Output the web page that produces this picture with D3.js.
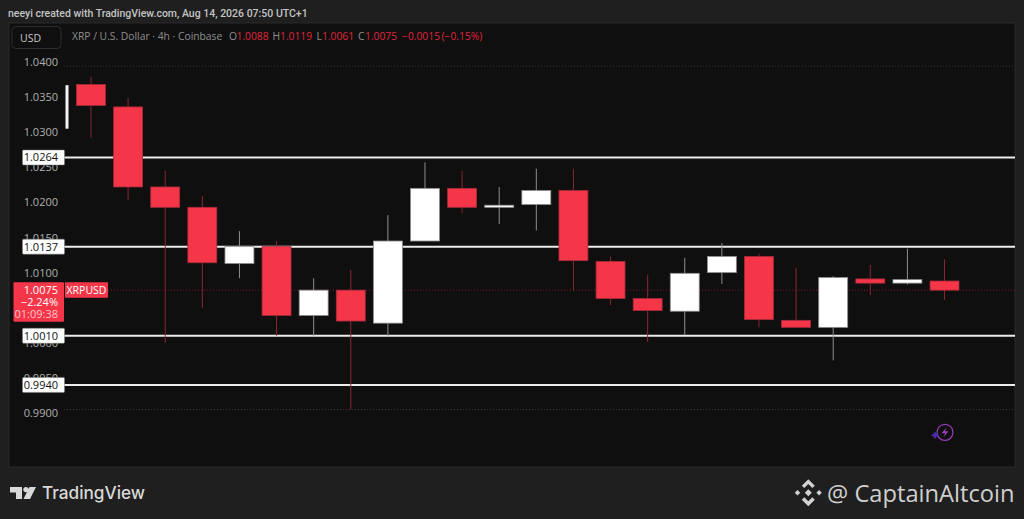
<!DOCTYPE html>
<html>
<head>
<meta charset="utf-8">
<script src="https://cdn.jsdelivr.net/npm/d3@7/dist/d3.min.js"></script>
<style>
  html, body { margin: 0; padding: 0; background: #1f1f1f; }
  svg { display: block; }
  text { font-family: "Open Sans", "Noto Sans", sans-serif; }
</style>
</head>
<body>
<svg id="grafico"></svg>
<script>
// 4h slots, day + hour
var slots = ['10 09:00', '10 13:00', '10 17:00', '10 21:00', '11 01:00', '11 05:00', '11 09:00', '11 13:00', '11 17:00',
             '11 21:00', '12 01:00', '12 05:00', '12 09:00', '12 13:00', '12 17:00', '12 21:00', '13 01:00', '13 05:00',
             '13 09:00', '13 13:00', '13 17:00', '13 21:00', '14 01:00', '14 05:00', '14 09:00', '14 13:00'];

// candles (the last slot is empty)
var opens  = [1.0368, 1.0336, 1.0222, 1.0193, 1.0113, 1.0137, 1.0039, 1.0075, 1.0028, 1.0145, 1.0220, 1.0193,
              1.0197, 1.0217, 1.0116, 1.0063, 1.0045, 1.0100, 1.0123, 1.0032, 1.0022, 1.0091, 1.0085, 1.0088];
var highs  = [1.0379, 1.0349, 1.0245, 1.0209, 1.0159, 1.0145, 1.0092, 1.0104, 1.0182, 1.0257, 1.0245, 1.0222,
              1.0248, 1.0248, 1.0123, 1.0097, 1.0121, 1.0142, 1.0127, 1.0107, 1.0095, 1.0111, 1.0134, 1.0119];
var lows   = [1.0292, 1.0203, 1.0000, 1.0050, 1.0092, 1.0010, 1.0010, 0.9905, 1.0010, 1.0145, 1.0185, 1.0169,
              1.0160, 1.0074, 1.0054, 1.0001, 1.0011, 1.0084, 1.0022, 1.0022, 0.9975, 1.0068, 1.0083, 1.0061];
var closes = [1.0338, 1.0222, 1.0193, 1.0114, 1.0137, 1.0039, 1.0075, 1.0031, 1.0145, 1.0220, 1.0193, 1.0196,
              1.0217, 1.0117, 1.0063, 1.0046, 1.0099, 1.0123, 1.0033, 1.0022, 1.0093, 1.0085, 1.0090, 1.0075];

// axes
var priceTicks = [1.04, 1.035, 1.03, 1.025, 1.02, 1.015, 1.01, 1.005, 1.0, 0.995, 0.99];
var timeTicks  = ['10 13:00', '11 01:00', '11 13:00', '12 01:00', '12 13:00', '13 01:00', '13 13:00', '14 01:00', '14 13:00'];
var timeLabels = ['13:00', '11', '13:00', '12', '13:00', '13', '13:00', '14', '13'];

// horizontal levels
var levels = [1.0264, 1.0137, 1.0010, 0.9940];
var gridLevels = [1.0394, 0.9905];
var lastPrice = 1.0075;
var leftBar = [1.0367, 1.0305];

var largura = 1024, altura = 519;
var plot = { esquerda: 9, direita: 1015, superior: 23, inferior: 467 };

var svg = d3.select('#grafico').attr('width', largura).attr('height', altura);

svg.append('rect').attr('width', largura).attr('height', altura).attr('fill', '#1f1f1f');
svg.append('rect')
    .attr('x', plot.esquerda).attr('y', plot.superior)
    .attr('width', plot.direita - plot.esquerda).attr('height', plot.inferior - plot.superior)
    .attr('fill', '#0f0f0f')
    .attr('stroke', '#2a2a2a');

svg.append('clipPath').attr('id', 'recorte').append('rect')
    .attr('x', plot.esquerda).attr('y', plot.superior)
    .attr('width', plot.direita - plot.esquerda).attr('height', plot.inferior - plot.superior);

//Scales
var y = d3.scaleLinear().domain([0.99, 1.04]).range([413, 62]);
var x = d3.scaleBand().domain(slots).range([72.45, 1037.3]).paddingInner(0.22).paddingOuter(0.11);
var meio = function(s) { return x(s) + x.bandwidth() / 2; };

//Axes
var eixoY = d3.axisLeft(y).tickValues(priceTicks).tickSize(0).tickPadding(0).tickFormat(d3.format('.4f'));
var gEixoY = svg.append('g').attr('transform', 'translate(58,0)').call(eixoY);
gEixoY.select('.domain').remove();
gEixoY.selectAll('text').attr('fill', '#b0b0b0').style('font-size', '11px').style('font-family', '"Open Sans"');

var eixoX = d3.axisBottom(x).tickValues(timeTicks).tickSize(0).tickPadding(0)
    .tickFormat(function(d) { return timeLabels[timeTicks.indexOf(d)]; });
var gEixoX = svg.append('g').attr('transform', 'translate(0,451)').attr('clip-path', 'url(#recorte)').call(eixoX);
gEixoX.select('.domain').remove();
gEixoX.selectAll('text').attr('fill', '#a8a8a8').style('font-size', '10.5px').style('font-family', '"Open Sans"');

//Dotted lines
svg.selectAll('.grade').data(gridLevels).enter().append('line')
    .attr('class', 'grade')
    .attr('x1', 64).attr('x2', plot.direita)
    .attr('y1', function(d) { return y(d); }).attr('y2', function(d) { return y(d); })
    .attr('stroke', '#3a3a3a').attr('stroke-dasharray', '1 2');

svg.append('line')
    .attr('x1', 108).attr('x2', plot.direita)
    .attr('y1', y(lastPrice)).attr('y2', y(lastPrice))
    .attr('stroke', '#7a1f2b').attr('stroke-dasharray', '1 2');

//Price levels
svg.selectAll('.nivel').data(levels).enter().append('line')
    .attr('class', 'nivel')
    .attr('x1', 64).attr('x2', plot.direita)
    .attr('y1', function(d) { return y(d); }).attr('y2', function(d) { return y(d); })
    .attr('stroke', '#ececec').attr('stroke-width', 2);

// short white bar left of the first candle
svg.append('line')
    .attr('x1', 67).attr('x2', 67)
    .attr('y1', y(leftBar[0])).attr('y2', y(leftBar[1]))
    .attr('stroke', '#f4f4f4').attr('stroke-width', 3);

//Candles
var velas = svg.append('g').selectAll('g').data(opens).enter().append('g');

velas.append('line')
    .attr('x1', function(d, i) { return meio(slots[i]); })
    .attr('x2', function(d, i) { return meio(slots[i]); })
    .attr('y1', function(d, i) { return y(highs[i]); })
    .attr('y2', function(d, i) { return y(lows[i]); })
    .attr('stroke', function(d, i) { return closes[i] < d ? '#8c2533' : '#8f8f8f'; });

velas.append('rect')
    .attr('x', function(d, i) { return x(slots[i]); })
    .attr('width', x.bandwidth())
    .attr('y', function(d, i) { return y(Math.max(d, closes[i])); })
    .attr('height', function(d, i) { return Math.abs(y(d) - y(closes[i])); })
    .attr('fill', function(d, i) { return closes[i] < d ? '#f53649' : '#ffffff'; })
    .attr('stroke', function(d, i) { return closes[i] < d ? '#a82a3a' : '#8c8c8c'; })
    .attr('stroke-width', 0.8);

//Level labels
var rotulos = svg.selectAll('.rotulo').data(levels).enter().append('g').attr('class', 'rotulo');
rotulos.append('rect')
    .attr('x', 22.5).attr('width', 42).attr('height', 15).attr('rx', 1)
    .attr('y', function(d) { return y(d) - 7.5; })
    .attr('fill', '#ffffff').attr('stroke', '#777').attr('stroke-width', 0.5);
rotulos.append('text')
    .attr('x', 58).attr('y', function(d) { return y(d) + 4; })
    .attr('text-anchor', 'end')
    .attr('fill', '#111').style('font-size', '11px')
    .text(function(d) { return d.toFixed(4); });

//Current price tag
var tag = svg.append('g');
tag.append('rect').attr('x', 13.5).attr('y', 282.3).attr('width', 50.5).attr('height', 39.4).attr('rx', 1).attr('fill', '#f53649');
tag.append('rect').attr('x', 65).attr('y', 282.3).attr('width', 43).attr('height', 15.4).attr('rx', 1).attr('fill', '#f53649');
tag.append('text').attr('x', 58).attr('y', 294).attr('text-anchor', 'end').attr('fill', '#fff').style('font-size', '11px').text(lastPrice.toFixed(4));
tag.append('text').attr('x', 58).attr('y', 306).attr('text-anchor', 'end').attr('fill', '#fff').style('font-size', '11px').text('\u22122.24%');
tag.append('text').attr('x', 58).attr('y', 318).attr('text-anchor', 'end').attr('fill', '#ffc4cb').style('font-size', '11px').text('01:09:38');
tag.append('text').attr('x', 86.5).attr('y', 294).attr('text-anchor', 'middle').attr('fill', '#fff').style('font-size', '10.5px').text('XRPUSD');

//Header
svg.append('text').attr('x', 8).attr('y', 17)
    .attr('fill', '#c4c4c4').style('font-size', '10.5px').style('font-weight', 500).style('font-family', 'Roboto')
    .text('neeyi created with TradingView.com, Aug 14, 2026 07:50 UTC+1');

svg.append('rect').attr('x', 12).attr('y', 26.5).attr('width', 49).attr('height', 22).attr('rx', 4)
    .attr('fill', 'none').attr('stroke', '#2e2e2e');
svg.append('text').attr('x', 20).attr('y', 41.5).attr('fill', '#c8c8c8').style('font-size', '10.5px').text('USD');

var legenda = svg.append('text').attr('y', 40).style('font-size', '10.3px');
var partes = [
    ['XRP / U.S. Dollar \u00b7 4h \u00b7 Coinbase', 72, '#8f8f8f'],
    ['O', 229, '#8f8f8f'], ['1.0088', 236.5, '#e0263c'],
    ['H', 272.5, '#8f8f8f'], ['1.0119', 280, '#e0263c'],
    ['L', 316.5, '#8f8f8f'], ['1.0061', 322, '#e0263c'],
    ['C', 358, '#8f8f8f'], ['1.0075', 365, '#e0263c'],
    ['\u22120.0015', 402, '#e0263c'], ['(\u22120.15%)', 441.5, '#e0263c']
];
legenda.selectAll('tspan').data(partes).enter().append('tspan')
    .attr('x', function(d) { return d[1]; })
    .attr('fill', function(d) { return d[2]; })
    .text(function(d) { return d[0]; });

//TradingView logo
var logo = svg.append('g').attr('fill', '#d9d9d9');
logo.append('path').attr('d', 'M10 487H22V499H16V492.5H10Z');
logo.append('circle').attr('cx', 26).attr('cy', 489.6).attr('r', 2.7);
logo.append('path').attr('d', 'M29.5 487H36L30 499H23.5Z');
svg.append('text').attr('x', 42).attr('y', 499)
    .attr('fill', '#d9d9d9').style('font-size', '17.2px').style('font-weight', 500).style('font-family', 'Inter')
    .text('TradingView');

//Watermark
var marca = svg.append('g').attr('transform', 'translate(808.3,492.7)').attr('fill', '#d2d2d2');
marca.append('path').attr('d', 'M0-3.5L3.5 0L0 3.5L-3.5 0Z');
marca.append('path').attr('d', 'M0-13.5L6.5-7L4-4.6L0-8.6L-4-4.6L-6.5-7Z');
marca.append('path').attr('d', 'M0 13.5L6.5 7L4 4.6L0 8.6L-4 4.6L-6.5 7Z');
marca.append('path').attr('d', 'M-13.5 0L-10.8-2.7L-8.1 0L-10.8 2.7Z');
marca.append('path').attr('d', 'M13.5 0L10.8-2.7L8.1 0L10.8 2.7Z');
svg.append('text').attr('x', 827).attr('y', 501.5)
    .attr('fill', '#cfcfcf').style('font-size', '23.7px')
    .text('@ CaptainAltcoin');

//Bolt icon
var raio = svg.append('g').attr('transform', 'translate(945,432.3)');
raio.append('circle').attr('r', 8).attr('fill', 'none').attr('stroke', '#9a3db8').attr('stroke-width', 1.2);
raio.append('path').attr('d', 'M1.5-5L-3.5 1H0L-1.5 5L3.5-1H0Z').attr('fill', '#9a3db8');
raio.append('path').attr('d', 'M-10-1L-8.5 1.5L-6 3L-8.5 4.5L-10 7L-11.5 4.5L-14 3L-11.5 1.5Z').attr('fill', '#4a2aa8');
</script>
</body>
</html>
